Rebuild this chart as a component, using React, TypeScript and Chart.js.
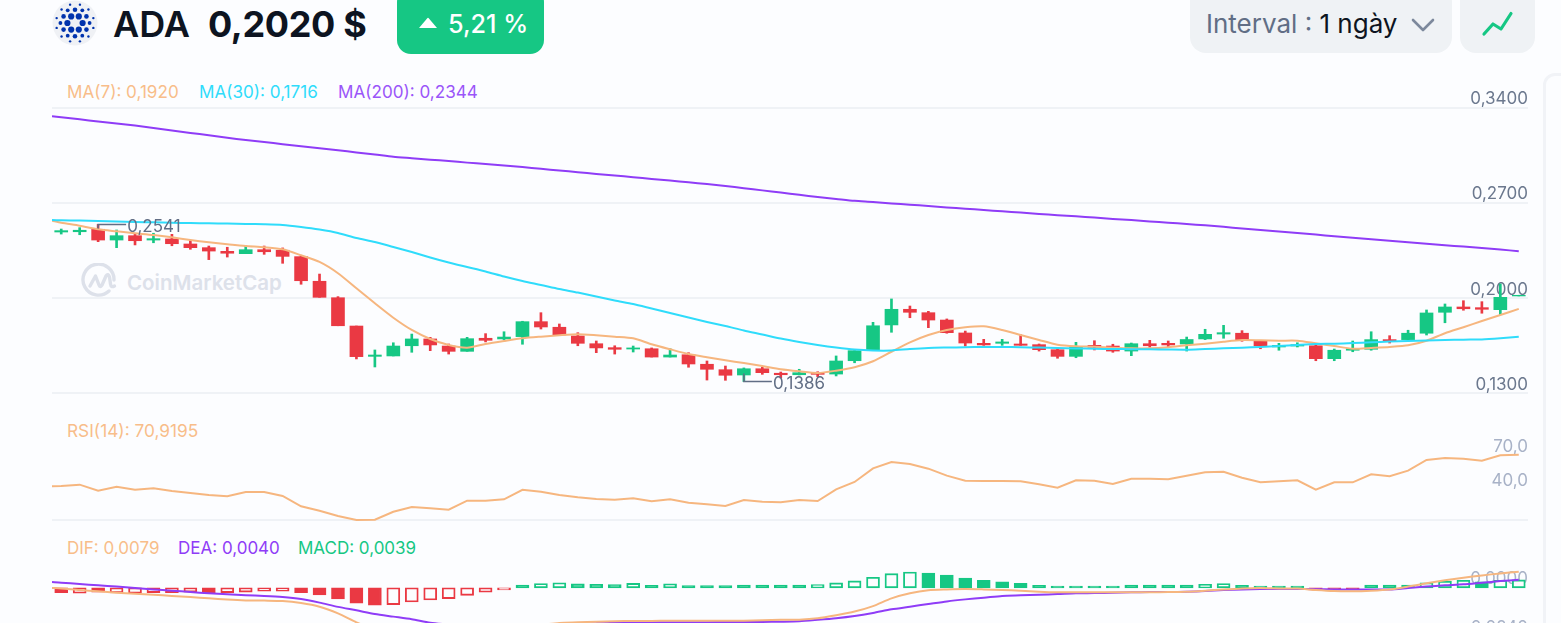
import React, { useEffect, useRef } from "react";
import { Chart } from "chart.js/auto";

const openPrices = [
  .2485,.2487,.2505,.2426,.2458,.2426,.2434,.2397,.2370,.2343,
  .2326,.2355,.2351,.2304,.2123,.2002,.1794,.1571,.1574,.1649,
  .1699,.1647,.1608,.1704,.1699,.1716,.1826,.1785,.1721,.1664,
  .1635,.1625,.1627,.1566,.1583,.1513,.1473,.1434,.1480,.1447,
  .1436,.1449,.1441,.1539,.1618,.1802,.1917,.1892,.1838,.1743,
  .1667,.1667,.1662,.1657,.1620,.1571,.1652,.1647,.1610,.1664,
  .1667,.1662,.1699,.1735,.1741,.1682,.1640,.1647,.1649,.1554,
  .1616,.1623,.1694,.1694,.1741,.1895,.1934,.1929,.1914,.2015,
];
const closePrices = [
  .2495,.2498,.2426,.2458,.2421,.2436,.2399,.2370,.2345,.2329,
  .2355,.2340,.2306,.2127,.2005,.1796,.1569,.1581,.1647,.1699,
  .1655,.1608,.1701,.1689,.1713,.1826,.1787,.1728,.1667,.1633,
  .1623,.1633,.1566,.1581,.1515,.1476,.1432,.1480,.1451,.1436,
  .1451,.1439,.1537,.1613,.1796,.1917,.1895,.1838,.1745,.1669,
  .1655,.1677,.1652,.1620,.1571,.1642,.1638,.1610,.1664,.1649,
  .1655,.1695,.1733,.1745,.1689,.1649,.1652,.1657,.1554,.1616,
  .1627,.1694,.1684,.1741,.1890,.1934,.1921,.1917,.2005,.2020,
];
const highPrices = [
  .2507,.2517,.2541,.2500,.2470,.2476,.2468,.2421,.2382,.2373,
  .2382,.2382,.2368,.2309,.2176,.2010,.1794,.1618,.1671,.1735,
  .1711,.1662,.1711,.1738,.1752,.1829,.1892,.1809,.1745,.1684,
  .1649,.1647,.1633,.1627,.1598,.1537,.1500,.1486,.1491,.1456,
  .1476,.1458,.1574,.1613,.1821,.1993,.1941,.1902,.1846,.1757,
  .1696,.1696,.1730,.1662,.1635,.1674,.1686,.1660,.1669,.1689,
  .1684,.1713,.1770,.1799,.1760,.1686,.1667,.1671,.1652,.1625,
  .1684,.1752,.1723,.1763,.1912,.1956,.1980,.1973,.2103,.2020,
];
const lowPrices = [
  .2470,.2465,.2414,.2370,.2390,.2406,.2384,.2358,.2282,.2301,
  .2326,.2321,.2255,.2101,.2005,.1796,.1552,.1493,.1574,.1601,
  .1613,.1588,.1608,.1677,.1694,.1660,.1772,.1728,.1649,.1598,
  .1588,.1603,.1566,.1566,.1491,.1397,.1395,.1386,.1439,.1412,
  .1434,.1422,.1427,.1524,.1613,.1748,.1855,.1782,.1741,.1647,
  .1652,.1652,.1652,.1610,.1557,.1561,.1618,.1601,.1576,.1638,
  .1640,.1610,.1694,.1704,.1682,.1627,.1616,.1640,.1539,.1539,
  .1605,.1616,.1669,.1689,.1728,.1818,.1910,.1888,.1877,.2015,
];

// Indicator lines: the first value sits half a candle before the first candle.
const ma7 = [
  .2568,
  .2553,.2531,.2505,.2490,.2476,.2463,.2446,.2426,.2409,.2395,
  .2382,.2373,.2358,.2314,.2265,.2182,.2071,.1961,.1855,.1765,
  .1699,.1655,.1635,.1662,.1684,.1704,.1716,.1726,.1733,.1726,
  .1716,.1704,.1660,.1623,.1588,.1564,.1542,.1522,.1500,.1476,
  .1461,.1449,.1466,.1491,.1535,.1605,.1674,.1728,.1765,.1785,
  .1792,.1765,.1728,.1691,.1657,.1645,.1642,.1635,.1630,.1630,
  .1638,.1652,.1664,.1679,.1691,.1689,.1686,.1686,.1667,.1647,
  .1627,.1633,.1640,.1652,.1686,.1741,.1785,.1831,.1875,.1920,
];
const ma30 = [
  .2573,
  .2571,.2569,.2566,.2562,.2559,.2556,.2553,.2551,.2549,.2547,
  .2544,.2542,.2537,.2522,.2503,.2478,.2441,.2412,.2375,.2338,
  .2298,.2261,.2228,.2195,.2158,.2125,.2096,.2066,.2040,.2011,
  .1982,.1956,.1923,.1890,.1857,.1824,.1794,.1761,.1732,.1702,
  .1677,.1655,.1636,.1621,.1614,.1614,.1625,.1633,.1636,.1638,
  .1640,.1640,.1638,.1636,.1633,.1629,.1627,.1625,.1624,.1623,
  .1621,.1620,.1625,.1630,.1635,.1640,.1647,.1655,.1662,.1664,
  .1669,.1674,.1680,.1684,.1688,.1691,.1694,.1695,.1704,.1716,
];
const ma200 = [
  .3335,
  .3328,.3313,.3297,.3283,.3267,.3250,.3231,.3213,.3196,.3177,
  .3161,.3147,.3130,.3115,.3101,.3086,.3070,.3055,.3039,.3028,
  .3017,.3007,.2995,.2985,.2973,.2962,.2950,.2937,.2925,.2912,
  .2900,.2888,.2875,.2863,.2850,.2838,.2823,.2807,.2791,.2775,
  .2759,.2742,.2728,.2714,.2706,.2695,.2686,.2676,.2666,.2656,
  .2647,.2637,.2628,.2618,.2609,.2600,.2591,.2581,.2573,.2563,
  .2553,.2544,.2534,.2523,.2511,.2500,.2488,.2477,.2466,.2454,
  .2443,.2432,.2421,.2410,.2399,.2388,.2378,.2367,.2356,.2344,
];
const rsi14 = [
  42.9,
  43.1,44.3,39.0,42.5,39.8,41.1,38.7,36.9,35.1,34.0,
  37.8,37.8,34.3,25.1,21.2,16.5,13.0,13.2,20.3,24.5,
  23.3,22.1,30.1,30.1,31.3,39.8,38.1,35.1,33.1,31.6,
  31.0,32.2,29.6,31.3,28.3,26.9,25.4,30.7,29.2,28.7,
  30.7,29.8,40.2,46.7,58.8,64.4,62.6,58.5,52.3,47.8,
  47.6,47.6,47.3,44.6,41.6,48.2,47.8,44.9,49.6,49.6,
  49.1,52.3,55.3,55.8,50.5,46.4,47.3,48.2,39.8,46.4,
  46.4,53.5,51.7,56.7,66.2,68.0,67.3,65.6,70.4,70.92,
];
const dif = [
  -.0001,
  -.0003,-.0011,-.0017,-.0024,-.0029,-.0034,-.0040,-.0045,-.0052,-.0058,
  -.0062,-.0063,-.0065,-.0075,-.0093,-.0126,-.0170,-.0208,-.0237,-.0252,
  -.0257,-.0254,-.0240,-.0224,-.0208,-.0194,-.0183,-.0173,-.0170,-.0167,
  -.0165,-.0163,-.0163,-.0162,-.0162,-.0162,-.0162,-.0162,-.0160,-.0158,
  -.0157,-.0150,-.0135,-.0117,-.0090,-.0052,-.0027,-.0012,-.0008,-.0006,
  -.0008,-.0011,-.0014,-.0019,-.0022,-.0022,-.0022,-.0022,-.0022,-.0022,
  -.0021,-.0019,-.0014,-.0008,-.0003,-.0001,-.0003,-.0004,-.0011,-.0016,
  -.0017,-.0014,-.0008,.0006,.0022,.0037,.0050,.0061,.0071,.0079,
];
const dea = [
  .0029,
  .0025,.0019,.0012,.0006,-.0001,-.0008,-.0014,-.0021,-.0027,-.0032,
  -.0037,-.0040,-.0045,-.0055,-.0073,-.0094,-.0111,-.0129,-.0142,-.0155,
  -.0172,-.0181,-.0188,-.0193,-.0194,-.0193,-.0190,-.0185,-.0180,-.0175,
  -.0173,-.0172,-.0170,-.0170,-.0170,-.0170,-.0168,-.0168,-.0168,-.0167,
  -.0165,-.0158,-.0150,-.0139,-.0124,-.0106,-.0093,-.0080,-.0067,-.0057,
  -.0049,-.0040,-.0037,-.0034,-.0031,-.0027,-.0026,-.0024,-.0022,-.0021,
  -.0021,-.0019,-.0016,-.0011,-.0008,-.0006,-.0006,-.0006,-.0007,-.0008,
  -.0008,-.0008,-.0008,-.0001,.0006,.0012,.0017,.0025,.0033,.0040,
];
const macd = [
  -.0024,-.0027,-.0022,-.0025,-.0027,-.0024,-.0024,-.0021,-.0024,-.0024,
  -.0021,-.0016,-.0016,-.0024,-.0035,-.0055,-.0076,-.0086,-.0083,-.0070,
  -.0060,-.0053,-.0037,-.0022,-.0011,.0014,.0021,.0025,.0019,.0017,
  .0016,.0022,.0012,.0019,.0011,.0011,.0011,.0014,.0014,.0014,
  .0014,.0016,.0024,.0034,.0052,.0070,.0078,.0073,.0063,.0048,
  .0037,.0030,.0022,.0012,.0009,.0009,.0009,.0009,.0014,.0014,
  .0014,.0014,.0017,.0021,.0012,.0009,.0009,.0009,-.0007,-.0009,
  -.0008,.0014,.0014,.0014,.0025,.0032,.0037,.0030,.0037,.0039,
];
const macdHollow = [
  0,1,0,1,1,1,1,1,0,1,
  1,1,1,0,0,0,0,0,1,1,
  1,1,1,1,1,0,1,1,0,0,
  0,1,0,1,0,0,0,0,0,0,
  0,1,1,1,1,1,1,0,0,0,
  0,0,0,0,0,0,0,0,0,0,
  0,0,1,1,0,0,0,0,0,0,
  0,0,0,0,1,1,1,0,1,1,
];

const priceTicks = [.13, .20, .27, .34];
const rsiTicks = [12.7, 40, 70];
const macdTicks = [-.024, 0];

const UP = "#16c784";
const DOWN = "#ea3943";
const PAGE = "#fcfdff";
const ORANGE = "#f6b67f";
const CYAN = "#2fdcfb";
const PURPLE = "#8f3cf7";
const FONT = "Inter, sans-serif";

const comma = (v: number, digits: number) => v.toFixed(digits).replace(".", ",");
const isUp = (i: number) => closePrices[i] >= openPrices[i];
const lineX = (i: number) => (i === 0 ? -0.5 : i - 1);
const asLine = (values: number[]) => values.map((y, i) => ({ x: lineX(i), y }));

const extremeLabels = {
  id: "extremeLabels",
  afterDatasetsDraw(chart: any) {
    const { ctx, scales } = chart;
    const hi = Math.max(...highPrices);
    const lo = Math.min(...lowPrices);
    const items = [
      { v: hi, i: highPrices.indexOf(hi) },
      { v: lo, i: lowPrices.indexOf(lo) },
    ];
    ctx.save();
    ctx.font = `17px ${FONT}`;
    ctx.textBaseline = "middle";
    ctx.fillStyle = "#616e85";
    for (const { v, i } of items) {
      const x = scales.x.getPixelForValue(i);
      const y = scales.yPrice.getPixelForValue(v);
      ctx.strokeStyle = "#616e85";
      ctx.lineWidth = 1.5;
      ctx.beginPath();
      ctx.moveTo(x, y - (v === hi ? -4 : 8));
      ctx.lineTo(x, y);
      ctx.lineTo(x + 28, y);
      ctx.stroke();
      ctx.fillText(comma(v, 4), x + 29, y + 2);
    }
    ctx.restore();
  },
};

const line = (label: string, data: number[], color: string, axis: string, tension = 0.25) => ({
  type: "line" as const,
  label,
  data: asLine(data),
  borderColor: color,
  borderWidth: 2,
  pointRadius: 0,
  tension,
  yAxisID: axis,
  order: 1,
});

const hiddenGrid = { display: false };
const tickFont = { family: FONT, size: 17, lineHeight: 1 };
const noPadding = (s: any) => {
  s.paddingTop = 0;
  s.paddingBottom = 0;
};

function PriceChart() {
  const ref = useRef<HTMLCanvasElement>(null);
  useEffect(() => {
    const chart = new Chart(ref.current!, {
      data: {
        datasets: [
          {
            type: "bar",
            label: "wick",
            data: highPrices.map((h, i) => ({ x: i, y: [lowPrices[i], h] })),
            backgroundColor: highPrices.map((_, i) => (isUp(i) ? UP : DOWN)),
            barThickness: 2,
            grouped: false,
            yAxisID: "yPrice",
            order: 4,
          },
          {
            type: "bar",
            label: "body",
            data: openPrices.map((o, i) => ({ x: i, y: [o, closePrices[i]] })),
            backgroundColor: openPrices.map((_, i) => (isUp(i) ? UP : DOWN)),
            barThickness: 13,
            grouped: false,
            yAxisID: "yPrice",
            order: 3,
          },
          line("MA(200)", ma200, PURPLE, "yPrice"),
          line("MA(30)", ma30, CYAN, "yPrice"),
          line("MA(7)", ma7, ORANGE, "yPrice"),
          line("RSI(14)", rsi14, ORANGE, "yRsi", 0),
          {
            type: "bar",
            label: "MACD",
            data: macd.map((y, i) => ({ x: i, y })),
            backgroundColor: macd.map((v, i) => (macdHollow[i] ? PAGE : v >= 0 ? UP : DOWN)),
            borderColor: macd.map((v) => (v >= 0 ? UP : DOWN)),
            borderWidth: 1.9,
            borderSkipped: false,
            barThickness: 13,
            grouped: false,
            yAxisID: "yMacd",
            order: 3,
          },
          line("DIF", dif, ORANGE, "yMacd"),
          line("DEA", dea, PURPLE, "yMacd"),
        ] as any,
      },
      options: {
        animation: false,
        responsive: false,
        layout: { padding: { left: 52, right: 33, top: 0, bottom: 0 } },
        plugins: { legend: { display: false }, tooltip: { enabled: false } },
        scales: {
          x: { type: "linear", min: -0.5, max: 79.5, offset: false, display: false, grid: hiddenGrid },
          yPrice: {
            position: "right",
            min: -0.03888,
            max: 0.41903,
            border: { display: false },
            grid: { color: "#eff2f6", lineWidth: 2, drawTicks: false },
            afterBuildTicks: (s: any) => { s.ticks = priceTicks.map((value) => ({ value })); },
            afterFit: noPadding,
            ticks: {
              mirror: true,
              padding: 0,
              autoSkip: false,
              color: "#6b788e",
              font: tickFont,
              callback: (v: any) => [comma(Number(v), 4), ""],
            },
          },
          yRsi: {
            position: "right",
            min: -78.4,
            max: 474.2,
            border: { display: false },
            grid: {
              lineWidth: 2,
              drawTicks: false,
              color: (c: any) => (c.tick && c.tick.value === rsiTicks[0] ? "#eff2f6" : "rgba(0,0,0,0)"),
            },
            afterBuildTicks: (s: any) => { s.ticks = rsiTicks.map((value) => ({ value })); },
            afterFit: noPadding,
            ticks: {
              mirror: true,
              padding: 0,
              autoSkip: false,
              color: "#a8b2c7",
              font: tickFont,
              callback: (v: any) => (v === rsiTicks[0] ? "" : [comma(Number(v), 1), ""]),
            },
          },
          yMacd: {
            position: "right",
            min: -0.01734,
            max: 0.28956,
            border: { display: false },
            grid: { display: false, drawTicks: false },
            afterBuildTicks: (s: any) => { s.ticks = macdTicks.map((value) => ({ value })); },
            afterFit: noPadding,
            ticks: {
              mirror: true,
              padding: 0,
              autoSkip: false,
              color: "#a8b2c7",
              font: tickFont,
              callback: (v: any) => [comma(Number(v), 4), ""],
            },
          },
        },
      } as any,
      plugins: [extremeLabels],
    });
    return () => chart.destroy();
  }, []);
  return (
    <canvas
      ref={ref}
      width={1561}
      height={623}
      style={{ position: "absolute", left: 0, top: 0, width: 1561, height: 623, display: "block" }}
    />
  );
}

const abs = (left: number, top: number, extra: React.CSSProperties = {}): React.CSSProperties => ({
  position: "absolute",
  left,
  top,
  whiteSpace: "nowrap",
  ...extra,
});

function Legend({ items, top, size = 17 }: { items: { x: number; text: string; color: string }[]; top: number; size?: number }) {
  return (
    <>
      {items.map((it) => (
        <div key={it.text} style={abs(it.x, top, { color: it.color, fontSize: size, lineHeight: "20px" })}>
          {it.text}
        </div>
      ))}
    </>
  );
}

function CardanoLogo() {
  const rings = [
    { n: 6, r: 7.6, s: 3.1, o: 0 },
    { n: 6, r: 13.2, s: 2.3, o: 30 },
    { n: 6, r: 14.6, s: 1.9, o: 0 },
    { n: 12, r: 19, s: 1.2, o: 15 },
  ];
  const dots: any[] = [];
  rings.forEach((ring, k) => {
    for (let j = 0; j < ring.n; j++) {
      const a = ((j * 360) / ring.n + ring.o) * (Math.PI / 180);
      dots.push(<circle key={`${k}-${j}`} cx={23 + ring.r * Math.cos(a)} cy={23 + ring.r * Math.sin(a)} r={ring.s} fill="#0033ad" />);
    }
  });
  return (
    <svg width={46} height={46} style={abs(52, 0)}>
      <circle cx={23} cy={23} r={22.5} fill="#eff1f5" />
      {dots}
    </svg>
  );
}

function Watermark() {
  return (
    <>
      <svg width={36} height={36} style={abs(81, 263)} fill="none" stroke="#dde1ea" strokeWidth={3.4} strokeLinecap="round" strokeLinejoin="round">
        <path d="M28 28 A15.5 15.5 0 1 1 33 17" />
        <path d="M9 23 L14.5 13 L18 22 Q19 25 21 22 L25 13 Q27 10 28.5 14 L29.5 21 Q30 25 33.5 23" />
      </svg>
      <div style={abs(127, 270, { color: "#dde1ea", fontSize: 20.5, fontWeight: 600, lineHeight: "26px" })}>CoinMarketCap</div>
    </>
  );
}

export default function App() {
  useEffect(() => {
    document.body.style.margin = "0";
    document.body.style.background = PAGE;
  }, []);
  return (
    <div style={{ position: "absolute", left: 0, top: 0, width: 1561, height: 623, overflow: "hidden", background: PAGE, fontFamily: FONT }}>
      <CardanoLogo />
      <div style={abs(113, 1, { fontSize: 36, fontWeight: 600, color: "#0d1421", lineHeight: "46px" })}>ADA</div>
      <div style={abs(208, 1, { fontSize: 36, fontWeight: 700, color: "#0d1421", lineHeight: "46px", letterSpacing: -0.35 })}>0,2020 $</div>
      <div style={abs(397, -12, { width: 147, height: 66, background: UP, borderRadius: 14 })} />
      <svg width={20} height={12} style={abs(418, 17)}><path d="M1 11 L9.5 1 Q10 .5 10.5 1 L19 11 Z" fill="#fff" /></svg>
      <div style={abs(448, 7, { fontSize: 25.2, fontWeight: 500, color: "#fff", lineHeight: "34px" })}>5,21 %</div>

      <div style={abs(1190, -14, { width: 262, height: 67, background: "#eff2f5", borderRadius: 16 })} />
      <div style={abs(1206, 7, { fontSize: 26, color: "#616e85", lineHeight: "34px" })}>
        Interval : <span style={{ color: "#0d1421" }}>1 ngày</span>
      </div>
      <svg width={26} height={14} style={abs(1410, 18)} fill="none" stroke="#7d899c" strokeWidth={2.6} strokeLinecap="round" strokeLinejoin="round">
        <path d="M3 2 L13 12 L23 2" />
      </svg>
      <div style={abs(1460, -14, { width: 75, height: 67, background: "#eff2f5", borderRadius: 16 })} />
      <svg width={40} height={34} style={abs(1478, 8)} fill="none" stroke={UP} strokeWidth={3.2} strokeLinecap="round" strokeLinejoin="round">
        <path d="M6 26 L15 16 L23 21 L33 5.5" />
      </svg>

      <div style={abs(1543, 73, { width: 60, height: 700, border: "3px solid #f1f3f7", borderRadius: 12, boxSizing: "border-box" })} />

      <Legend
        top={82}
        size={17.1}
        items={[
          { x: 67, text: "MA(7): 0,1920", color: "#f8bd8a" },
          { x: 199, text: "MA(30): 0,1716", color: "#2fdcfb" },
          { x: 338, text: "MA(200): 0,2344", color: "#9a55f9" },
        ]}
      />
      <Legend top={421} size={17.3} items={[{ x: 67, text: "RSI(14): 70,9195", color: "#f8bd8a" }]} />
      <Legend
        top={538}
        items={[
          { x: 67, text: "DIF: 0,0079", color: "#f8bd8a" },
          { x: 178, text: "DEA: 0,0040", color: "#8f3cf7" },
          { x: 298, text: "MACD: 0,0039", color: UP },
        ]}
      />
      <Watermark />
      <PriceChart />
    </div>
  );
}
